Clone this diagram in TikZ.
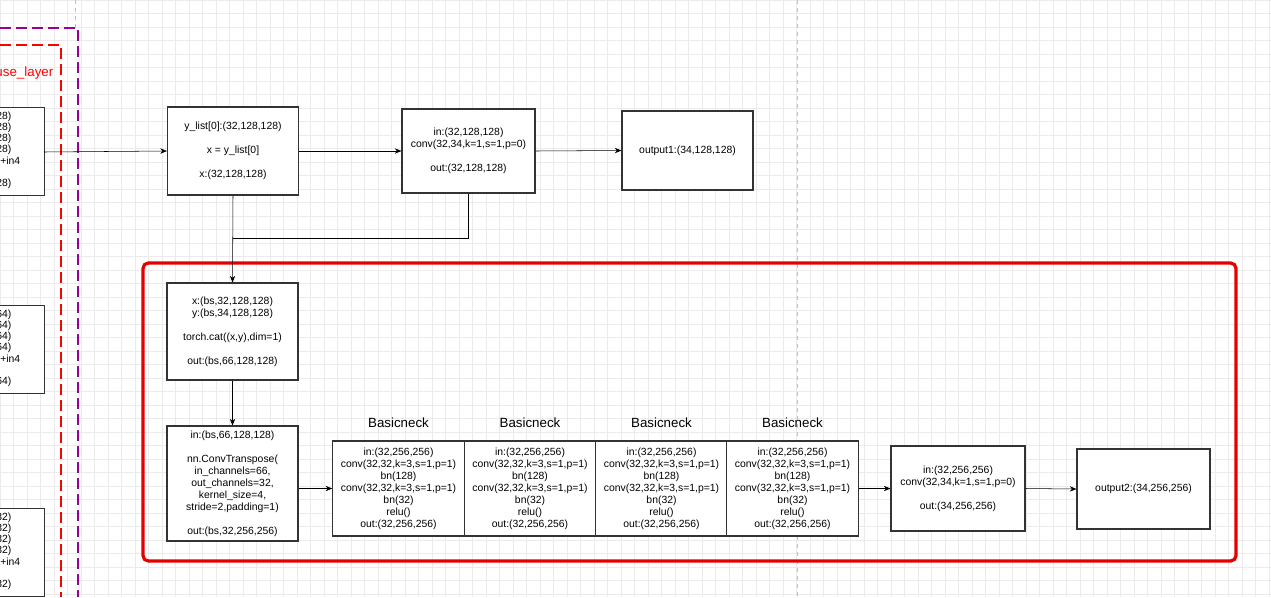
\documentclass[tikz,border=0pt]{standalone}
\usepackage{fontspec}
\setmainfont{Liberation Sans}
\usetikzlibrary{arrows.meta}
\newdimen\pxl \pxl=0.75pt
\begin{document}
\begin{tikzpicture}[x=0.75pt, y=-0.75pt]
        % ================= styles =================
        \tikzset{
            % plain block
            blk/.style={draw=black!80, thick, fill=white, align=center, inner sep=0pt, font=\fontsize{7.8}{9}\selectfont},
            % title above a neck block
            ttl/.style={font=\fontsize{10}{12}\selectfont},
            % connector
            link/.style={black, -{Stealth[length=5pt,width=4pt]}},
            plain/.style={black}
        }
        \useasboundingbox (0,0) rectangle (1271,597);
        \fill[white] (0,0) rectangle (1271,597);
        % background grid
        \foreach \gx in {0,13.5,...,1271} \draw[black!8] (\gx,0) -- (\gx,597);
        \foreach \gy in {0,13.5,...,597} \draw[black!8] (0,\gy) -- (1271,\gy);
        \draw[black!25, dashed] (797,0) -- (797,597);
        \draw[black!25, dashed] (75,0) -- (75,28);

        % ================= left (cut) part =================
        \draw[violet!80!magenta, line width=1.6pt, dash pattern=on 8pt off 4pt] (0,28) -- (78,28) -- (78,597);
        \draw[red, line width=1.6pt, dash pattern=on 8pt off 4pt] (0,45) -- (61,45) -- (61,597);
        \node[red, anchor=east, font=\fontsize{10}{12}\selectfont] (lname) at (58,73) {use\_layer};

        \node[blk, anchor=north west, minimum width=60\pxl, minimum height=88\pxl] (l1) at (-16,107) {};
        \node[blk, anchor=north west, minimum width=60\pxl, minimum height=88\pxl] (l2) at (-16,305) {};
        \node[blk, anchor=north west, minimum width=60\pxl, minimum height=88\pxl] (l3) at (-16,508) {};
        \foreach \b/\y/\s in {1/107/128, 2/305/64, 3/508/32}{
            \foreach \k/\d in {0/10, 1/21, 2/32, 3/43}
                \node[font=\fontsize{7.8}{9}\selectfont, anchor=east] at (16,\y+\d) {\s)};
            \node[font=\fontsize{7.8}{9}\selectfont, anchor=east] at (25,\y+54) {in3+in4};
            \node[font=\fontsize{7.8}{9}\selectfont, anchor=east] at (16,\y+77) {\s)};
        }

        % ================= top row =================
        \node[blk, minimum width=131\pxl, minimum height=88\pxl] (ylist) at (233,151) {y\_list[0]:(32,128,128)\\[9pt] x = y\_list[0]\\[9pt] x:(32,128,128)};
        \node[blk, minimum width=133\pxl, minimum height=84\pxl] (conv1) at (468.5,151) {in:(32,128,128)\\ conv(32,34,k=1,s=1,p=0)\\[9pt] out:(32,128,128)};
        \node[blk, minimum width=131\pxl, minimum height=79\pxl] (out1) at (687.5,150.5) {output1:(34,128,128)};

        \coordinate (lout) at (44,152);
        \draw[link] (lout) -- (ylist.west);
        \draw[link] (ylist.east) -- (conv1.west);
        \draw[link] (conv1.east) -- (out1.west);

        % ================= red frame =================
        \draw[red!90!black, line width=2.4pt, rounded corners=4pt] (143,263) rectangle (1236,561);

        \node[blk, minimum width=131\pxl, minimum height=97\pxl] (cat) at (232.5,331.5) {x:(bs,32,128,128)\\ y:(bs,34,128,128)\\[9pt] torch.cat((x,y),dim=1)\\[9pt] out:(bs,66,128,128)};
        \node[blk, minimum width=131\pxl, minimum height=115\pxl] (up) at (232.5,483.5) {in:(bs,66,128,128)\\[9pt] nn.ConvTranspose(\\ in\_channels=66,\\ out\_channels=32,\\ kernel\_size=4,\\ stride=2,padding=1)\\[9pt] out:(bs,32,256,256)};

        \draw[link] (ylist.south) -- (cat.north);
        \draw[plain] (conv1.south) |- (233,238);

        % neck blocks
        \foreach \i/\x in {1/398.5, 2/530, 3/661.5, 4/792.5}{
            \node[blk, minimum width=131.5\pxl, minimum height=95\pxl] (neck\i) at (\x,488.5) {in:(32,256,256)\\ conv(32,32,k=3,s=1,p=1)\\ bn(128)\\ conv(32,32,k=3,s=1,p=1)\\ bn(32)\\ relu()\\ out:(32,256,256)};
            \node[ttl] (ttl\i) at (\x,423) {Basicneck};
        }

        \node[blk, minimum width=134\pxl, minimum height=85\pxl] (conv2) at (958,488.5) {in:(32,256,256)\\ conv(32,34,k=1,s=1,p=0)\\[9pt] out:(34,256,256)};
        \node[blk, minimum width=133\pxl, minimum height=80\pxl] (out2) at (1143.5,489) {output2:(34,256,256)};

        \draw[link] (cat.south) -- (up.north);
        \draw[link] (up.east |- neck1.west) -- (neck1.west);
        \draw[link] (neck4.east) -- (conv2.west);
        \draw[link] (conv2.east) -- (out2.west);
\end{tikzpicture}
\end{document}
